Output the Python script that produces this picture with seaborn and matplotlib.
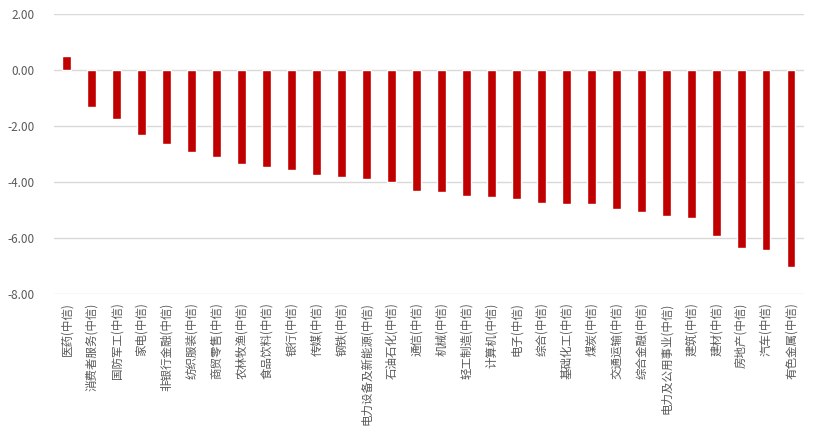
import pandas as pd
import seaborn as sns
import matplotlib.pyplot as plt

# Industry returns (%)
industries = ['医药', '消费者服务', '国防军工', '家电', '非银行金融', '纺织服装', '商贸零售',
              '农林牧渔', '食品饮料', '银行', '传媒', '钢铁', '电力设备及新能源', '石油石化',
              '通信', '机械', '轻工制造', '计算机', '电子', '综合', '基础化工', '煤炭',
              '交通运输', '综合金融', '电力及公用事业', '建筑', '建材', '房地产', '汽车', '有色金属']
returns = [0.51, -1.33, -1.76, -2.33, -2.65, -2.94, -3.12, -3.37, -3.48, -3.58,
           -3.76, -3.83, -3.90, -4.01, -4.33, -4.37, -4.51, -4.55, -4.62, -4.76,
           -4.80, -4.80, -4.98, -5.08, -5.23, -5.30, -5.94, -6.37, -6.44, -7.05]
yticks = [2, 0, -2, -4, -6, -8]

df = pd.DataFrame({'industry': [s + '(中信)' for s in industries], 'ret': returns})

sns.set_style('white')
plt.rcParams['font.family'] = ['Noto Sans CJK SC', 'DejaVu Sans']

fig = plt.figure(figsize=(8.2, 4.4), dpi=100)
ax = fig.add_axes([0.066, 0.332, 0.914, 0.636])

sns.barplot(data=df, x='industry', y='ret', color='#C00000', saturation=1, width=0.35, ax=ax)

ax.set_ylim(-8, 2)
ax.set_xlim(-0.5, len(industries) - 0.5)
ax.set_yticks(yticks)
ax.set_yticklabels([f'{v:.2f}' for v in yticks], fontsize=8.5, color='#595959')
ax.yaxis.grid(True, color='#d9d9d9', linewidth=1)
ax.set_axisbelow(True)
ax.tick_params(axis='x', rotation=90, labelsize=8.3, colors='#595959', length=0, pad=6)
ax.tick_params(axis='y', length=0, pad=14)
for lbl in ax.get_xticklabels():
    lbl.set_verticalalignment('top')
for s in ax.spines.values():
    s.set_visible(False)
ax.set_xlabel('')
ax.set_ylabel('')

fig.savefig('out.png', dpi=100)
